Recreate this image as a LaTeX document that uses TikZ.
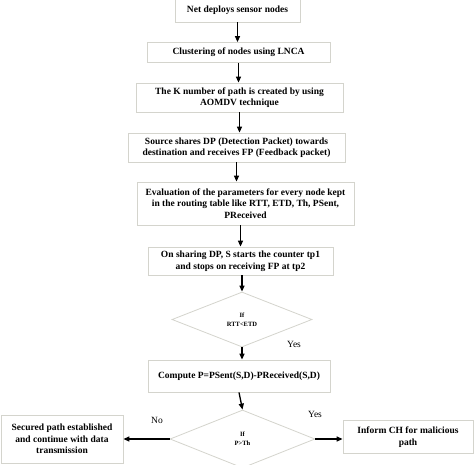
\documentclass[tikz,border=0pt]{standalone}
\usepackage{fontspec}
\setmainfont{Liberation Serif}
\usepackage{tikz}
\usetikzlibrary{shapes.geometric, arrows.meta}
\definecolor{boxgray}{RGB}{212,212,205}
\tikzset{
  stepbox/.style={draw=boxgray, line width=0.8pt, fill=white, align=center,
    font=\bfseries\fontsize{9.5}{11.5}\selectfont, inner sep=1pt},
  decision/.style={diamond, draw=boxgray, line width=0.8pt, fill=white, align=center,
    font=\bfseries\fontsize{6.5}{9}\selectfont, inner sep=0pt},
  flow/.style={-{Triangle[length=6pt,width=5pt]}, line width=1.3pt},
  answer/.style={font=\fontsize{9.5}{11}\selectfont}
}

\begin{document}
\begin{tikzpicture}[x=1pt, y=-1pt]
    \useasboundingbox (0,0) rectangle (474,464);
    % process steps
    \node[stepbox, minimum width=125pt, minimum height=23pt] (net) at (237.5,10.5) {Net deploys sensor nodes};
    \node[stepbox, minimum width=183pt, minimum height=20pt] (clus) at (238.5,52.5) {Clustering of nodes using LNCA};
    \node[stepbox, minimum width=207pt, minimum height=29pt] (kpath) at (239.5,97.5) {The K number of path is created by using\\AOMDV technique};
    \node[stepbox, minimum width=217pt, minimum height=29pt] (share) at (236.5,147.5) {Source shares DP (Detection Packet) towards\\destination and receives FP (Feedback packet)};
    \node[stepbox, minimum width=217pt, minimum height=43pt] (eval) at (245.5,203.5) {Evaluation of the parameters for every node kept\\in the routing table like RTT, ETD, Th, PSent,\\PReceived};
    \node[stepbox, minimum width=185pt, minimum height=28pt] (count) at (240.5,261) {On sharing DP, S starts the counter tp1\\and stops on receiving FP at tp2};
    \node[decision, minimum width=140pt, minimum height=55pt] (rtt) at (242,319.5) {If\\RTT<ETD};
    \node[stepbox, minimum width=182pt, minimum height=32pt] (comp) at (239,376) {Compute P=PSent(S,D)-PReceived(S,D)};
    \node[decision, minimum width=145pt, minimum height=58pt] (pth) at (242.5,439) {If\\P>Th};
    \node[stepbox, minimum width=122pt, minimum height=48pt] (secure) at (62,439) {Secured path established\\and continue with data\\transmission};
    \node[stepbox, minimum width=130pt, minimum height=33pt] (inform) at (408,437) {Inform CH for malicious\\path};
    % connectors
    \draw[flow] (net.south) -- (net.south |- clus.north);
    \draw[flow] (clus.south) -- (clus.south |- kpath.north);
    \draw[flow] (kpath.south) -- (kpath.south |- share.north);
    \draw[flow] (share.south) -- (share.south |- eval.north);
    \draw[flow] (count.north |- eval.south) -- (count.north);
    \draw[flow] (rtt.north |- count.south) -- (rtt.north);
    \draw[flow] (rtt.south) -- (rtt.south |- comp.north);
    \draw[flow] (comp.south) -- (pth.north);
    \draw[flow] (pth.west) -- (secure.east |- pth.west);
    \draw[flow] (pth.east) -- (inform.west |- pth.east);
    % answers
    \node[answer] (yes1) at (294,344) {Yes};
    \node[answer] (no) at (157,420) {No};
    \node[answer] (yes2) at (315,414) {Yes};
\end{tikzpicture}
\end{document}
